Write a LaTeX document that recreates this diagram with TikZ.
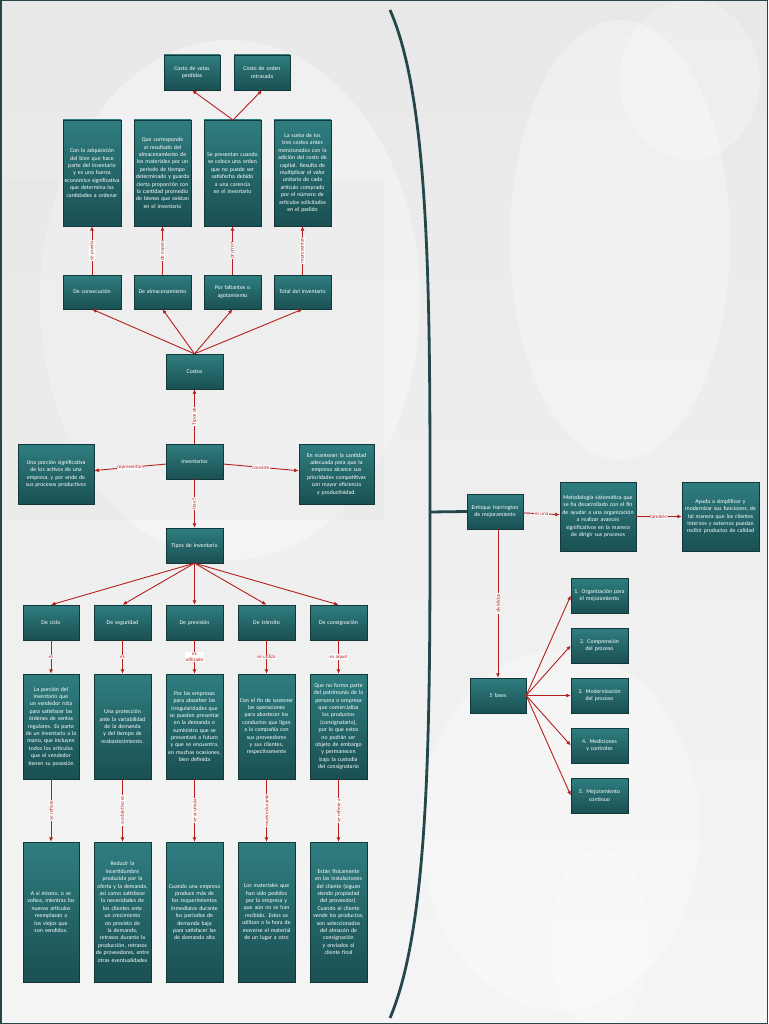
\documentclass[tikz,border=0pt]{standalone}
\usepackage{fontspec}
\setmainfont{Carlito}
\usetikzlibrary{arrows.meta,shadows}
\hyphenpenalty=10000 \exhyphenpenalty=10000
\definecolor{tealT}{HTML}{2F7D80}
\definecolor{tealB}{HTML}{1A5053}
\definecolor{arr}{HTML}{B3201E}
\definecolor{frame}{HTML}{24474A}
\tikzset{
  box/.style={draw=tealB!70!black, top color=tealT, bottom color=tealB, text=white, align=center, inner sep=1pt,
    font=\fontsize{5.8}{7.4}\selectfont, drop shadow={opacity=0.35, shadow xshift=1pt, shadow yshift=-1pt}},
  con/.style={draw=arr, line width=0.9pt, -{Latex[length=4.5pt,width=4pt]}},
  lab/.style={fill=white, text=arr, font=\fontsize{5.2}{6}\selectfont, inner sep=0.6pt},
  vlab/.style={lab, rotate=90},
}
\newcommand\bx[6]{\node[box, minimum width={(#4-#2)*1pt}, minimum height={(#5-#3)*1pt}, text width={(#4-#2-3)*1pt}] (#1) at ({(#2+#4)/2},{(#3+#5)/2}) {#6};}
\begin{document}
\begin{tikzpicture}[x=1pt,y=-1pt]
\useasboundingbox (0,0) rectangle (768,1024);
\shade[top color=gray!18, bottom color=gray!8] (0,0) rectangle (768,1024);
\fill[white,opacity=0.35] (230,300) ellipse (190 and 260);
\fill[white,opacity=0.3] (620,240) ellipse (110 and 220);
\fill[white,opacity=0.3] (560,830) ellipse (140 and 180);
\fill[white,opacity=0.25] (600,940) ellipse (50 and 90);
\fill[white,opacity=0.25] (690,80) ellipse (70 and 80);
\fill[gray!20,opacity=0.25] (0,180) rectangle (384,520);
\draw[frame,line width=1.5pt] (0.75,0.75) rectangle (767.25,1023.25);
% bracket
\draw[frame,line width=2.8pt] (390,10) .. controls (430,100) and (430,300) .. (430,512) .. controls (430,724) and (430,924) .. (390,1018);
\coordinate (br) at (430,512);
% top
\bx{cv}{164}{55}{220}{90}{Costo de vetas\\perdidas}
\bx{co}{234}{55}{290}{90}{Costo de orden\\retrasada}
\bx{d1}{63}{120}{121}{226}{Con la adquisición del bien que hace parte del inventario y es una fuerza económica significativa que determina las cantidades a ordenar}
\bx{d2}{134}{120}{191}{226}{Que corresponde al resultado del almacenamiento de los materiales por un periodo de tiempo determinado y guarda cierta proporción con la cantidad promedio de bienes que existan en el inventario}
\bx{d3}{204}{120}{261}{226}{Se presentan cuando se coloca una orden que no puede ser satisfecha debido a una carencia en el inventario}
\bx{d4}{274}{120}{331}{226}{La suma de los tres costos antes mencionados con la adición del costo de capital. Resulta de multiplicar el valor unitario de cada artículo comprado por el número de artículos solicitados en el pedido}
\bx{c1}{63}{275}{121}{309}{De consecución}
\bx{c2}{134}{275}{191}{309}{De almacenamiento}
\bx{c3}{204}{275}{261}{309}{Por faltantes o agotamiento}
\bx{c4}{274}{275}{331}{309}{Total del inventario}
\bx{cos}{166}{354}{223}{389}{Costos}
\bx{inv}{166}{444}{223}{479}{Inventarios}
\bx{rep}{18}{444}{94}{504}{Una porción significativa de los activos de una empresa, y por ende de sus procesos productivos}
\bx{cons}{299}{444}{374}{504}{En mantener la cantidad adecuada para que la empresa alcance sus prioridades competitivas con mayor eficiencia y productividad.}
\bx{tip}{166}{528}{223}{563}{Tipos de Inventario}
\bx{t1}{23}{605}{79}{640}{De ciclo}
\bx{t2}{94}{605}{151}{640}{De seguridad}
\bx{t3}{166}{605}{223}{640}{De previsión}
\bx{t4}{238}{605}{295}{640}{De tránsito}
\bx{t5}{310}{605}{367}{640}{De consignación}
\bx{e1}{23}{674}{79}{779}{La porción del inventario que un vendedor rota para satisfacer las órdenes de ventas regulares. Es parte de un inventario a la mano, que incluyen todos los artículos que el vendedor tienen su posesión}
\bx{e2}{94}{674}{151}{779}{Una protección ante la variabilidad de la demanda y del tiempo de reabastecimiento.}
\bx{e3}{166}{674}{223}{779}{Por las empresas para absorber las irregularidades que se pueden presentar en la demanda o suministro que se presentará a futuro y que se encuentra, en muchas ocasiones, bien definida}
\bx{e4}{238}{674}{295}{779}{Con el fin de sostener las operaciones para abastecer los conductos que ligan a la compañía con sus proveedores y sus clientes, respectivamente}
\bx{e5}{310}{674}{367}{779}{Que no forma parte del patrimonio de la persona o empresa que comercializa los productos (consignatario), por lo que estos no podrán ser objeto de embargo y permanecen bajo la custodia del consignatario}
\bx{f1}{23}{842}{79}{982}{A sí mismo, o se voltea, mientras los nuevos artículos reemplazan a los viejos que son vendidos.}
\bx{f2}{94}{842}{151}{982}{Reducir la incertidumbre producida por la oferta y la demanda, así como satisfacer la necesidades de los clientes ante un crecimiento no previsto de la demanda, retrasos durante la producción, retrasos de proveedores, entre otras eventualidades}
\bx{f3}{166}{842}{223}{982}{Cuando una empresa produce más de los requerimientos inmediatos durante los periodos de demanda baja para satisfacer las de demanda alta}
\bx{f4}{238}{842}{295}{982}{Los materiales que han sido pedidos por la empresa y que aún no se han recibido. Estos se utilizan a la hora de moverse el material de un lugar a otro}
\bx{f5}{310}{842}{367}{982}{Están físicamente en las instalaciones del cliente (siguen siendo propiedad del proveedor). Cuando el cliente vende los productos, son seleccionados del almacén de consignación y enviados al cliente final}
% right
\bx{enf}{467}{494}{523}{529}{Enfoque Harrington de mejoramiento}
\bx{met}{560}{482}{636}{551}{Metodología sistemática que se ha desarrollado con el fin de ayudar a una organización a realizar avances significativos en la manera de dirigir sus procesos}
\bx{ayu}{682}{482}{759}{551}{Ayuda a simplificar y modernizar sus funciones, de tal manera que los clientes internos y externos puedan recibir productos de calidad}
\bx{fas}{470}{678}{526}{713}{5 fases}
\bx{p1}{571}{578}{628}{613}{1. Organización para el mejoramiento}
\bx{p2}{571}{628}{628}{663}{2. Comprensión del proceso}
\bx{p3}{571}{678}{628}{713}{3. Modernización del proceso}
\bx{p4}{571}{728}{628}{763}{4. Mediciones y controles}
\bx{p5}{571}{778}{628}{813}{5. Mejoramiento continuo}
% connectors
\draw[frame,line width=2.8pt] (br) -- (enf.west);
\coordinate (j1) at (233,120);
\draw[con] (j1) -- (cv.south);
\draw[con] (j1) -- (co.south);
\draw[con] (c1) -- node[vlab]{se pueda} (d1);
\draw[con] (c2) -- node[vlab]{de espera} (d2);
\draw[con] (c3) -- node[vlab]{ocurren} (d3);
\draw[con] (c4) -- node[vlab]{representan} (d4);
\foreach \c in {c1,c2,c3,c4}{\draw[con] (cos.north) -- (\c.south);}
\draw[con] (inv) -- node[vlab]{Tipos de} (cos);
\draw[con] (inv) -- node[lab]{representan} (rep);
\draw[con] (inv) -- node[lab]{consiste} (cons);
\draw[con] (inv) -- node[vlab]{Hay 5} (tip);
\foreach \t in {t1,t2,t3,t4,t5}{\draw[con] (tip.south) -- (\t.north);}
\draw[con] (t1) -- node[lab]{es} (e1);
\draw[con] (t2) -- node[lab]{es} (e2);
\draw[con] (t3) -- node[lab,align=center]{es\\utilizado} (e3);
\draw[con] (t4) -- node[lab]{se utiliza} (e4);
\draw[con] (t5) -- node[lab]{es aquel} (e5);
\draw[con] (e1) -- node[vlab]{se refiere} (f1);
\draw[con] (e2) -- node[vlab]{su objetivo es} (f2);
\draw[con] (e3) -- node[vlab]{se acumula} (f3);
\draw[con] (e4) -- node[vlab]{mueve durante} (f4);
\draw[con] (e5) -- node[vlab]{se refiere a} (f5);
\draw[con] (enf) -- node[lab]{es una} (met);
\draw[con] (met) -- node[lab]{también} (ayu);
\draw[con] (enf.south -| fas.north) -- node[vlab]{divididos} (fas.north);
\foreach \p in {p1,p2,p3,p4,p5}{\draw[con] (fas.east) -- (\p.west);}
\end{tikzpicture}
\end{document}
